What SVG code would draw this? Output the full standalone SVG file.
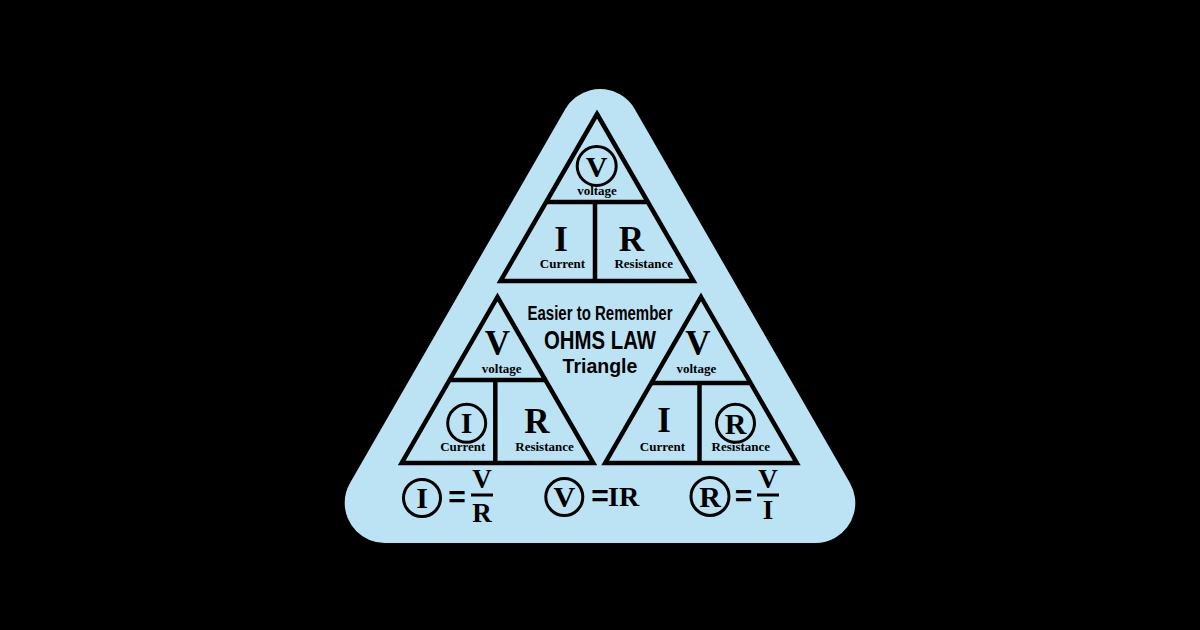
<svg xmlns="http://www.w3.org/2000/svg" width="1200" height="630" viewBox="0 0 1200 630">
<style>
.plate{fill:#bce3f3;stroke:#bce3f3;stroke-width:80;stroke-linejoin:round}
.tri{fill:none;stroke:#000;stroke-width:4.5;stroke-linejoin:miter}
.div{stroke:#000;stroke-width:4.5;fill:none}
.ring{fill:none;stroke:#000;stroke-width:3}
.bar{stroke:#000;stroke-width:3}
.L{font-family:"Liberation Serif","DejaVu Serif",serif;font-weight:bold;fill:#000;text-anchor:middle}
.big{font-size:35px}
.cl{font-size:30px}
.sm{font-size:13px}
.eq{font-size:27px}
.sans{font-family:"Liberation Sans",Arial,sans-serif;fill:#000;text-anchor:middle}
.eqs{font-family:"Liberation Sans",Arial,sans-serif;font-weight:bold;font-size:30px;fill:#000;text-anchor:middle}
</style>
<rect width="1200" height="630" fill="#000"/>
<g id="plate">
<polygon class="plate" points="600,129 815.3,503 384.7,503"/>
</g>
<g id="connectors"></g>
<g id="top-triangle">
<path class="tri" d="M597,114 L693.5,281 L500.5,281 Z"/>
<line class="div" x1="545" y1="202" x2="649" y2="202"/>
<line class="div" x1="595" y1="202" x2="595" y2="281"/>
<circle class="ring" cx="596.7" cy="166" r="19.5"/>
<text class="L cl" x="596.7" y="176.5">V</text>
<text class="L sm" x="597" y="195">voltage</text>
<text class="L big" x="561" y="251">I</text>
<text class="L big" x="631.5" y="251">R</text>
<text class="L sm" x="562.5" y="268">Current</text>
<text class="L sm" x="643.7" y="268">Resistance</text>
</g>
<g id="left-triangle">
<path class="tri" d="M497.5,297 L593.3,463 L401.7,463 Z"/>
<line class="div" x1="448.5" y1="380" x2="546.5" y2="380"/>
<line class="div" x1="495.3" y1="380" x2="495.3" y2="463"/>
<text class="L big" x="497.5" y="355">V</text>
<text class="L sm" x="501.7" y="373">voltage</text>
<circle class="ring" cx="466.7" cy="423.3" r="19"/>
<text class="L cl" x="466.7" y="433.3">I</text>
<text class="L sm" x="462.8" y="451">Current</text>
<text class="L big" x="537" y="432.5">R</text>
<text class="L sm" x="544.5" y="451">Resistance</text>
</g>
<g id="right-triangle">
<path class="tri" d="M701,297 L796.8,463 L605.2,463 Z"/>
<line class="div" x1="650.4" y1="383" x2="751.6" y2="383"/>
<line class="div" x1="699.5" y1="383" x2="699.5" y2="463"/>
<text class="L big" x="698" y="354.5">V</text>
<text class="L sm" x="696.3" y="373">voltage</text>
<text class="L big" x="664" y="431.5">I</text>
<text class="L sm" x="662.5" y="451">Current</text>
<circle class="ring" cx="735.5" cy="423.3" r="19"/>
<text class="L cl" x="735.5" y="433.5">R</text>
<text class="L sm" x="740.8" y="451">Resistance</text>
</g>
<g id="title">
<text class="sans" x="600" y="320" font-size="20" font-weight="bold" textLength="145" lengthAdjust="spacingAndGlyphs">Easier to Remember</text>
<text class="sans" x="600" y="349.3" font-size="25" font-weight="bold" textLength="112" lengthAdjust="spacingAndGlyphs">OHMS LAW</text>
<text class="sans" x="600" y="373.3" font-size="19.5" font-weight="bold">Triangle</text>
</g>
<g id="eq-current">
<circle class="ring" cx="422" cy="498" r="18.5"/>
<text class="L cl" x="422" y="508">I</text>
<text class="eqs" x="457" y="506.5">=</text>
<text class="L eq" x="482" y="488">V</text>
<line class="bar" x1="471" y1="495" x2="493" y2="495"/>
<text class="L eq" x="482" y="522">R</text>
</g>
<g id="eq-voltage">
<circle class="ring" cx="564.3" cy="497" r="18.5"/>
<text class="L cl" x="564.3" y="507">V</text>
<text class="eqs" x="600" y="506">=</text>
<text class="L" x="608" y="506" font-size="28" style="text-anchor:start">IR</text>
</g>
<g id="eq-resistance">
<circle class="ring" cx="710" cy="496.5" r="19"/>
<text class="L cl" x="710" y="506.5">R</text>
<text class="eqs" x="743.5" y="505.5">=</text>
<text class="L eq" x="768" y="488">V</text>
<line class="bar" x1="757" y1="495" x2="779" y2="495"/>
<text class="L eq" x="768" y="519">I</text>
</g>
</svg>
